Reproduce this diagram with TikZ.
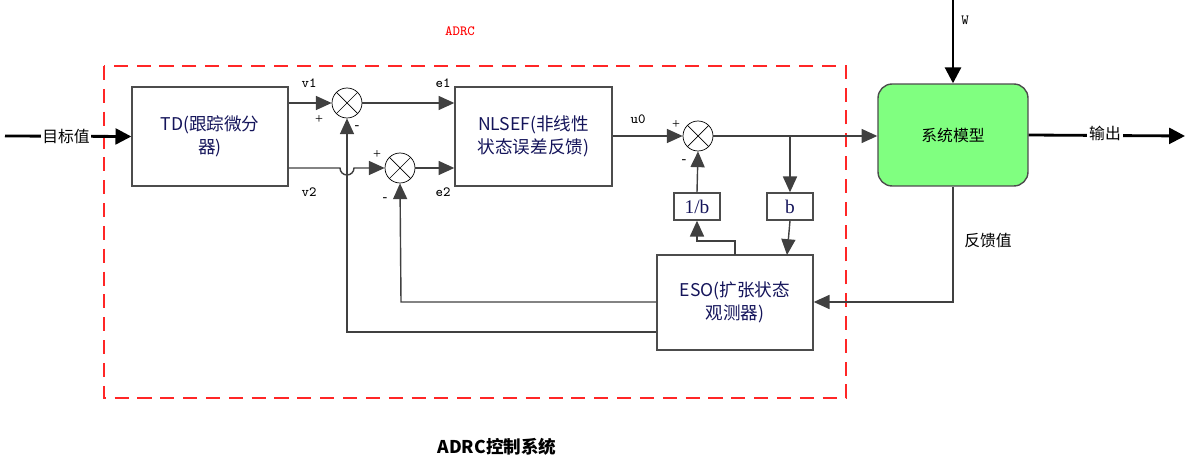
\documentclass[tikz,border=0pt]{standalone}
\usepackage{fontspec}
\setmainfont{Liberation Serif}
\newfontfamily\cjk{Noto Sans CJK SC}
\usetikzlibrary{arrows.meta}
\definecolor{sysgreen}{RGB}{128,255,128}
\definecolor{txtblue}{RGB}{20,20,90}
\begin{document}
\begin{tikzpicture}[x=0.02cm,y=-0.02cm,
  blk/.style={draw=black!70, thick, inner sep=0pt, align=center, font=\cjk\fontsize{10}{13}\selectfont, text=txtblue},
  sumj/.style={draw, circle, minimum size=0.6cm, inner sep=0pt,
    path picture={\draw (path picture bounding box.north west) -- (path picture bounding box.south east)
      (path picture bounding box.north east) -- (path picture bounding box.south west);}},
  sig/.style={draw=black!75, thick, -{Triangle[length=9pt,width=8pt]}},
  fat/.style={draw=black, line width=1.6pt, -{Triangle[length=9pt,width=9pt]}},
  lbl/.style={font=\ttfamily\fontsize{8}{9}\selectfont},
  sgn/.style={font=\fontsize{8}{9}\selectfont}]
\useasboundingbox (0,0) rectangle (1187,469);

 % ADRC frame
\draw[red!85, thick, dash pattern=on 8pt off 5pt] (104,66) rectangle (846,398);
\node[lbl, text=red] at (460,31) {ADRC};

 % blocks
\node[blk, minimum width=3.12cm, minimum height=1.98cm] (td) at (210,136.5) {TD(跟踪微分\\器)};
\node[blk, minimum width=3.14cm, minimum height=1.98cm] (nlsef) at (533.5,136.5) {NLSEF(非线性\\状态误差反馈)};
\node[blk, minimum width=3.12cm, minimum height=1.9cm] (eso) at (735,302.5) {ESO(扩张状态\\观测器)};
\node[blk, minimum width=0.92cm, minimum height=0.54cm, font=\fontsize{11}{13}\selectfont] (invb) at (697,206.5) {1/b};
\node[blk, minimum width=0.92cm, minimum height=0.54cm, font=\fontsize{11}{13}\selectfont] (bb) at (790,206.5) {b};
\node[blk, fill=sysgreen, rounded corners=8pt, text=black, minimum width=3cm, minimum height=2.04cm, font=\cjk\fontsize{9}{11}\selectfont] (sys) at (953,135) {系统模型};

 % summing junctions
\node[sumj] (s1) at (347,103) {};
\node[sumj] (s2) at (400,168) {};
\node[sumj] (s3) at (698,136) {};

 % input and disturbance
\coordinate (in) at (5,136);
\coordinate (w) at (953,0);
\coordinate (out) at (1185,136);
\draw[fat] (in) -- (td.west);
\node[fill=white, inner sep=1pt, font=\cjk\fontsize{9}{11}\selectfont] at (66,136) {目标值};
\draw[fat] (w) -- (sys.north);
\node[lbl] at (965,20) {W};
\draw[fat] (sys.east) -- (out);
\node[fill=white, inner sep=1pt, font=\cjk\fontsize{9}{11}\selectfont] at (1105,133) {输出};

 % td to nlsef
\draw[sig] (td.east |- s1) -- (s1);
\draw[sig] (s1) -- (nlsef.west |- s1);
\draw[sig] (td.east |- s2) -- (340,168) arc (180:0:7) -- (s2);
\draw[sig] (s2) -- (nlsef.west |- s2);
\node[lbl] at (309,83) {v1};
\node[lbl] at (309,192) {v2};
\node[lbl] at (443,83) {e1};
\node[lbl] at (443,192) {e2};
\node[sgn] at (319,120) {+};
\node[sgn] at (357,128) {-};
\node[sgn] at (377,155) {+};
\node[sgn] at (385,200) {-};

 % nlsef to plant
\draw[sig] (nlsef.east |- s3) -- (s3);
\draw[sig] (s3) -- (sys.west |- s3);
\draw[sig] (790,136) -- (bb.north);
\draw[sig] (bb.south) -- (787,255);
\node[lbl] at (638,119) {u0};
\node[sgn] at (676,125) {+};
\node[sgn] at (684,162) {-};

 % feedback
\draw[sig] (735,255) -- (735,241) -- (697,241) -- (invb.south);
\draw[sig] (invb.north) -- (s3.south);
\draw[sig] (eso.west |- 0,302) -- (401,302) -- (s2.south);
\draw[sig] (eso.west |- 0,332) -- (347,332) -- (s1.south);
\draw[sig] (sys.south) -- (953,302) -- (eso.east |- 0,302);
\node[font=\cjk\fontsize{9}{11}\selectfont] at (988,241) {反馈值};

\node[font=\cjk\bfseries\fontsize{10}{12}\selectfont] at (497,447) {ADRC控制系统};
\end{tikzpicture}
\end{document}
